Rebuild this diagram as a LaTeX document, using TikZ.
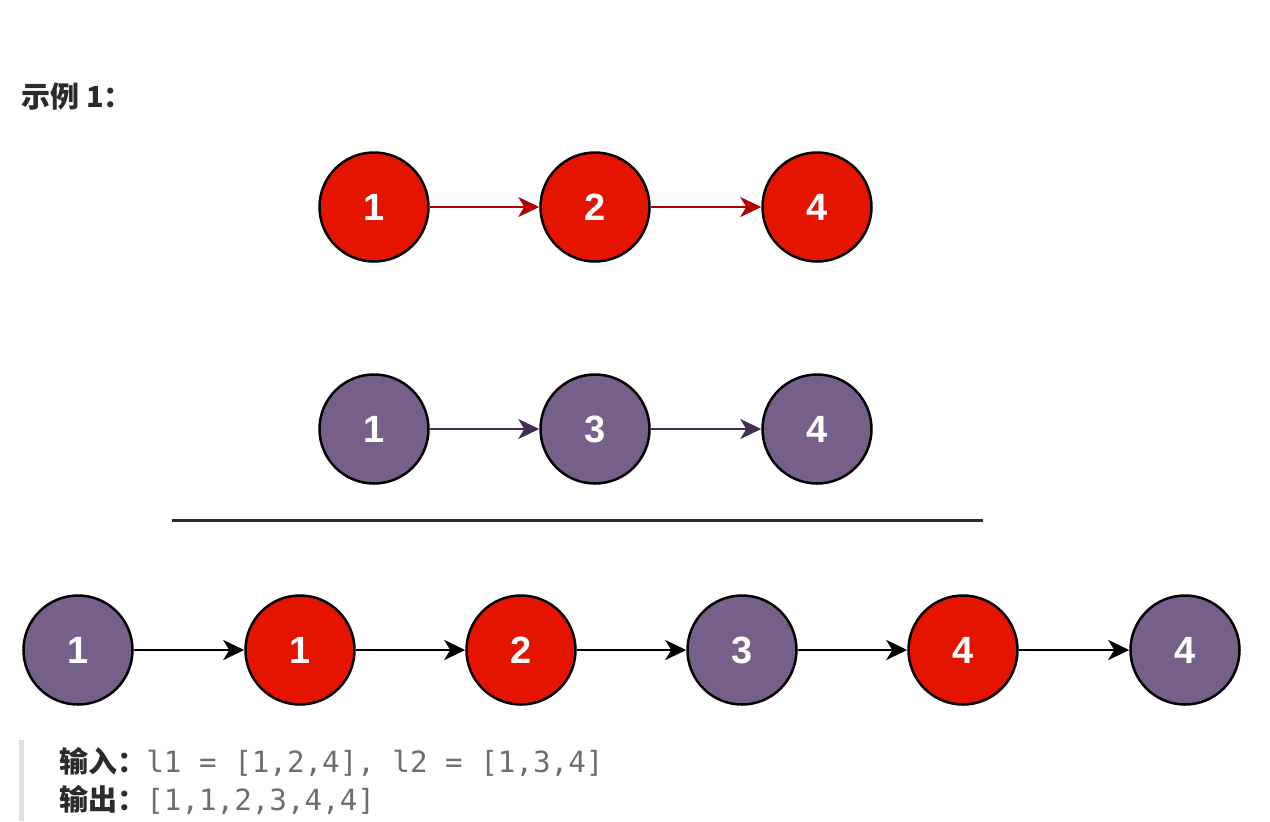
\documentclass[tikz,border=0pt]{standalone}
\usepackage{fontspec}
\setmainfont{Liberation Sans}
\setmonofont{DejaVu Sans Mono}
\newfontfamily\cjk{Noto Sans CJK SC}
\usetikzlibrary{arrows.meta}
\definecolor{nodeR}{HTML}{E51400}
\definecolor{nodeP}{HTML}{76608A}
\definecolor{edgeR}{HTML}{B20000}
\definecolor{edgeP}{HTML}{432D57}
\definecolor{codeG}{HTML}{6E6E6E}
\definecolor{textD}{HTML}{2B2B2B}
\tikzset{
  lnode/.style={circle, draw=black, line width=1.25pt, minimum size=54.5pt, inner sep=0pt,
    text=white, font=\bfseries\fontsize{19}{19}\selectfont},
  rnode/.style={lnode, fill=nodeR},
  pnode/.style={lnode, fill=nodeP},
  link/.style={-{Stealth[length=10.5pt, width=10pt, inset=3pt]}, line width=1.1pt}}

\begin{document}
\begin{tikzpicture}[x=0.5pt, y=-0.5pt]
\useasboundingbox (0,0) rectangle (1270,821);
% heading
\node[anchor=west, inner sep=0pt, text=textD, font=\cjk\bfseries\fontsize{14.5}{14.5}\selectfont] (title) at (21,97) {示例 1：};
% list l1
\node[rnode] (a1) at (374,207) {1};
\node[rnode] (a2) at (595,207) {2};
\node[rnode] (a3) at (817,207) {4};
\draw[link, edgeR] (a1) -- (a2);
\draw[link, edgeR] (a2) -- (a3);
% list l2
\node[pnode] (b1) at (374,429) {1};
\node[pnode] (b2) at (595,429) {3};
\node[pnode] (b3) at (817,429) {4};
\draw[link, edgeP] (b1) -- (b2);
\draw[link, edgeP] (b2) -- (b3);
% separator
\draw[line width=1.5pt, textD] (172,520) -- (983,520);
% merged list
\node[pnode] (m1) at (78,650) {1};
\node[rnode] (m2) at (300,650) {1};
\node[rnode] (m3) at (521,650) {2};
\node[pnode] (m4) at (742,650) {3};
\node[rnode] (m5) at (963,650) {4};
\node[pnode] (m6) at (1185,650) {4};
\foreach \i/\j in {m1/m2, m2/m3, m3/m4, m4/m5, m5/m6}
  \draw[link, line width=1.4pt, black] (\i) -- (\j);
% example text
\fill[black!12] (19,740) rectangle (24,821);
\node[anchor=west, inner sep=0pt] (inp) at (59,762)
  {{\cjk\bfseries\color{textD}\fontsize{14.5}{14.5}\selectfont 输入：}{\ttfamily\color{codeG}\fontsize{14.6}{14.6}\selectfont l1 = [1,2,4], l2 = [1,3,4]}};
\node[anchor=west, inner sep=0pt] (outp) at (59,800)
  {{\cjk\bfseries\color{textD}\fontsize{14.5}{14.5}\selectfont 输出：}{\ttfamily\color{codeG}\fontsize{14.6}{14.6}\selectfont [1,1,2,3,4,4]}};
\end{tikzpicture}
\end{document}
